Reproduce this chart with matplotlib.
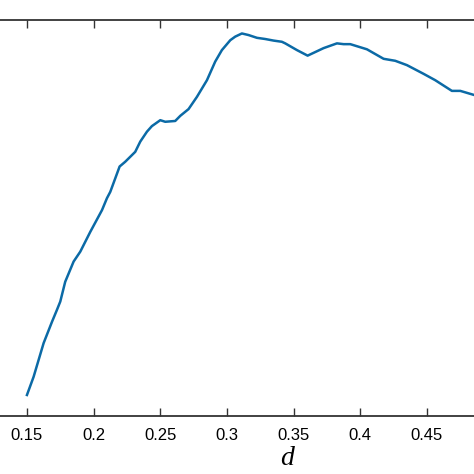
import matplotlib
matplotlib.use('Agg')
import matplotlib.pyplot as plt

# curve (y in relative units, no y labels visible)
d = [0.150, 0.155, 0.1625, 0.1688, 0.1725, 0.175, 0.1787, 0.185, 0.190, 0.1975,
     0.2063, 0.210, 0.2125, 0.2195, 0.2237, 0.2312, 0.235, 0.240, 0.2437, 0.250,
     0.2537, 0.2612, 0.265, 0.2712, 0.2775, 0.285, 0.2912, 0.2962, 0.3025, 0.3062,
     0.3112, 0.3162, 0.3225, 0.3287, 0.335, 0.3412, 0.3437, 0.3525, 0.3605, 0.3725,
     0.3825, 0.3875, 0.3925, 0.405, 0.4175, 0.4262, 0.435, 0.4475, 0.4562, 0.4687,
     0.475, 0.480, 0.485, 0.490]
val = [0.053, 0.099, 0.184, 0.238, 0.268, 0.289, 0.339, 0.390, 0.415, 0.465,
       0.520, 0.550, 0.566, 0.630, 0.642, 0.667, 0.693, 0.718, 0.732, 0.747,
       0.743, 0.745, 0.758, 0.775, 0.806, 0.848, 0.895, 0.924, 0.949, 0.958,
       0.966, 0.962, 0.955, 0.952, 0.948, 0.945, 0.941, 0.924, 0.910, 0.929,
       0.941, 0.939, 0.939, 0.926, 0.902, 0.897, 0.886, 0.864, 0.848, 0.821,
       0.821, 0.816, 0.811, 0.806]
xticks = [0.15, 0.2, 0.25, 0.3, 0.35, 0.4, 0.45]
xticklabels = ['0.15', '0.2', '0.25', '0.3', '0.35', '0.4', '0.45']

fig = plt.figure(figsize=(4.74, 4.74), dpi=100)
# axes run past the figure edges (the reference is a crop)
ax = fig.add_axes([-0.0838, 0.1224, 1.1252, 0.8354])
ax.plot(d, val, color='#0b6aa6', linewidth=1.8)

ax.set_xlim(0.1, 0.5)
ax.set_ylim(0, 1)
ax.set_xticks(xticks)
ax.set_xticklabels(xticklabels, fontsize=12, family='Liberation Sans')
ax.set_yticks([])
ax.tick_params(axis='x', direction='in', length=6, width=1, color='#333333',
               top=True, bottom=True, pad=8.5)
for side in ['top', 'bottom']:
    ax.spines[side].set_color('#333333')
    ax.spines[side].set_linewidth(1.3)
for side in ['left', 'right']:
    ax.spines[side].set_visible(False)

ax.set_xlabel('d', fontsize=20, family='Liberation Serif', style='italic')
ax.xaxis.set_label_coords((287 + 39.7) / 533.3, -0.075)

fig.savefig('out.png', dpi=100)
